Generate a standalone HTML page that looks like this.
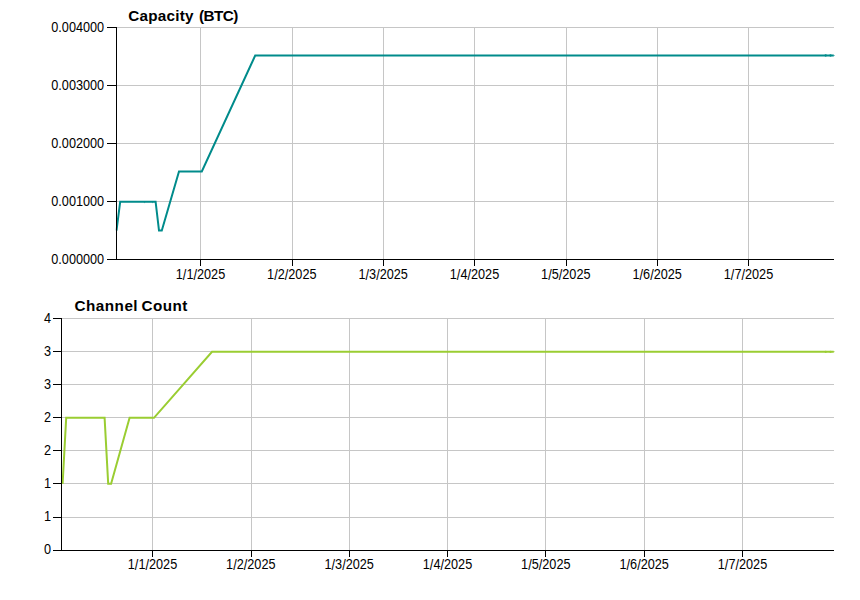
<!DOCTYPE html>
<html lang="en">
<head>
<meta charset="utf-8">
<title>Capacity (BTC) / Channel Count</title>
<style>
html,body{margin:0;padding:0;background:#fff;}
body{width:860px;height:600px;overflow:hidden;}
svg{display:block;}
.lab text{font-family:"Liberation Sans",Arial,sans-serif;font-size:14.5px;fill:#000;}
.ttl{font-family:"Liberation Sans",Arial,sans-serif;font-weight:bold;font-size:15.25px;fill:#000;}
</style>
</head>
<body>
<svg width="860" height="600" viewBox="0 0 860 600">
<defs>
<clipPath id="clip1"><rect x="115.5" y="27" width="720" height="233"/></clipPath>
<clipPath id="clip2"><rect x="61" y="318" width="774.5" height="233"/></clipPath>
</defs>
<rect x="0" y="0" width="860" height="600" fill="#fff"/>
<g shape-rendering="crispEdges" fill="#c6c6c6">
<rect x="117" y="27" width="717" height="1"/>
<rect x="117" y="85" width="717" height="1"/>
<rect x="117" y="143" width="717" height="1"/>
<rect x="117" y="201" width="717" height="1"/>
<rect x="200" y="27" width="1" height="232"/>
<rect x="292" y="27" width="1" height="232"/>
<rect x="383" y="27" width="1" height="232"/>
<rect x="474" y="27" width="1" height="232"/>
<rect x="566" y="27" width="1" height="232"/>
<rect x="657" y="27" width="1" height="232"/>
<rect x="748" y="27" width="1" height="232"/>
</g>
<polyline points="116.5,230.5 120.2,201.7 155.6,201.7 159,230.5 161.8,230.5 179,171.5 201.8,171.5 255.2,55.5 833.5,55.5" fill="none" stroke="#008b8b" stroke-width="2" stroke-linejoin="miter" clip-path="url(#clip1)"/>
<g fill="#008b8b"><polygon points="833.3,54.5 834.8,55.5 833.3,56.5"/><circle cx="825.7" cy="55.5" r="1.15"/><circle cx="830.5" cy="55.5" r="1.15"/></g>
<polygon fill="#008b8b" points="143.7,202.5 145.3,202.5 144.5,203.2"/>
<polygon fill="#008b8b" points="151.79999999999998,202.5 153.4,202.5 152.6,203.2"/>
<g shape-rendering="crispEdges" fill="#000">
<rect x="116" y="27" width="1" height="233"/>
<rect x="116" y="259" width="718" height="1"/>
<rect x="107" y="27" width="9" height="1"/>
<rect x="107" y="85" width="9" height="1"/>
<rect x="107" y="143" width="9" height="1"/>
<rect x="107" y="201" width="9" height="1"/>
<rect x="107" y="259" width="9" height="1"/>
<rect x="200" y="260" width="1" height="6"/>
<rect x="292" y="260" width="1" height="6"/>
<rect x="383" y="260" width="1" height="6"/>
<rect x="474" y="260" width="1" height="6"/>
<rect x="566" y="260" width="1" height="6"/>
<rect x="657" y="260" width="1" height="6"/>
<rect x="748" y="260" width="1" height="6"/>
</g>
<g class="lab" text-anchor="end">
<text transform="translate(104.2,32) scale(0.876,1)">0.004000</text>
<text transform="translate(104.2,90) scale(0.876,1)">0.003000</text>
<text transform="translate(104.2,148) scale(0.876,1)">0.002000</text>
<text transform="translate(104.2,206) scale(0.876,1)">0.001000</text>
<text transform="translate(104.2,264) scale(0.876,1)">0.000000</text>
</g>
<g class="lab" text-anchor="middle">
<text transform="translate(200.5,279) scale(0.876,1)">1<tspan dy="1">/</tspan><tspan dy="-1">1</tspan><tspan dy="1">/</tspan><tspan dy="-1">2025</tspan></text>
<text transform="translate(291.8,279) scale(0.876,1)">1<tspan dy="1">/</tspan><tspan dy="-1">2</tspan><tspan dy="1">/</tspan><tspan dy="-1">2025</tspan></text>
<text transform="translate(383.2,279) scale(0.876,1)">1<tspan dy="1">/</tspan><tspan dy="-1">3</tspan><tspan dy="1">/</tspan><tspan dy="-1">2025</tspan></text>
<text transform="translate(474.5,279) scale(0.876,1)">1<tspan dy="1">/</tspan><tspan dy="-1">4</tspan><tspan dy="1">/</tspan><tspan dy="-1">2025</tspan></text>
<text transform="translate(565.8,279) scale(0.876,1)">1<tspan dy="1">/</tspan><tspan dy="-1">5</tspan><tspan dy="1">/</tspan><tspan dy="-1">2025</tspan></text>
<text transform="translate(657.2,279) scale(0.876,1)">1<tspan dy="1">/</tspan><tspan dy="-1">6</tspan><tspan dy="1">/</tspan><tspan dy="-1">2025</tspan></text>
<text transform="translate(748.5,279) scale(0.876,1)">1<tspan dy="1">/</tspan><tspan dy="-1">7</tspan><tspan dy="1">/</tspan><tspan dy="-1">2025</tspan></text>
</g>
<text class="ttl" y="20.5"><tspan x="128.3" style="letter-spacing:0.23px">Capacity </tspan><tspan x="199.0" style="letter-spacing:-0.52px">(BTC)</tspan></text>
<g shape-rendering="crispEdges" fill="#c6c6c6">
<rect x="62" y="318" width="772" height="1"/>
<rect x="62" y="351" width="772" height="1"/>
<rect x="62" y="384" width="772" height="1"/>
<rect x="62" y="417" width="772" height="1"/>
<rect x="62" y="450" width="772" height="1"/>
<rect x="62" y="483" width="772" height="1"/>
<rect x="62" y="517" width="772" height="1"/>
<rect x="152" y="318" width="1" height="232"/>
<rect x="251" y="318" width="1" height="232"/>
<rect x="349" y="318" width="1" height="232"/>
<rect x="447" y="318" width="1" height="232"/>
<rect x="545" y="318" width="1" height="232"/>
<rect x="644" y="318" width="1" height="232"/>
<rect x="742" y="318" width="1" height="232"/>
</g>
<polyline points="62.6,483.85 66.2,417.85 104.6,417.85 108.2,483.85 111.1,483.85 129.6,417.85 154,417.85 212,351.85 833.5,351.85" fill="none" stroke="#9acd32" stroke-width="2" stroke-linejoin="miter" clip-path="url(#clip2)"/>
<g fill="#9acd32"><polygon points="833.3,350.85 834.8,351.85 833.3,352.85"/><circle cx="825.7" cy="351.85" r="1.15"/><circle cx="830.5" cy="351.85" r="1.15"/></g>
<g shape-rendering="crispEdges" fill="#000">
<rect x="61" y="318" width="1" height="233"/>
<rect x="61" y="550" width="773" height="1"/>
<rect x="53" y="318" width="8" height="1"/>
<rect x="53" y="351" width="8" height="1"/>
<rect x="53" y="384" width="8" height="1"/>
<rect x="53" y="417" width="8" height="1"/>
<rect x="53" y="450" width="8" height="1"/>
<rect x="53" y="483" width="8" height="1"/>
<rect x="53" y="517" width="8" height="1"/>
<rect x="53" y="550" width="8" height="1"/>
<rect x="152" y="551" width="1" height="6"/>
<rect x="251" y="551" width="1" height="6"/>
<rect x="349" y="551" width="1" height="6"/>
<rect x="447" y="551" width="1" height="6"/>
<rect x="545" y="551" width="1" height="6"/>
<rect x="644" y="551" width="1" height="6"/>
<rect x="742" y="551" width="1" height="6"/>
</g>
<g class="lab" text-anchor="end">
<text transform="translate(51.0,323) scale(0.876,1)">4</text>
<text transform="translate(51.0,356) scale(0.876,1)">3</text>
<text transform="translate(51.0,389) scale(0.876,1)">3</text>
<text transform="translate(51.0,422) scale(0.876,1)">2</text>
<text transform="translate(51.0,455) scale(0.876,1)">2</text>
<text transform="translate(51.0,488) scale(0.876,1)">1</text>
<text transform="translate(51.0,521) scale(0.876,1)">1</text>
<text transform="translate(51.0,554) scale(0.876,1)">0</text>
</g>
<g class="lab" text-anchor="middle">
<text transform="translate(152.5,569) scale(0.876,1)">1<tspan dy="1">/</tspan><tspan dy="-1">1</tspan><tspan dy="1">/</tspan><tspan dy="-1">2025</tspan></text>
<text transform="translate(250.8,569) scale(0.876,1)">1<tspan dy="1">/</tspan><tspan dy="-1">2</tspan><tspan dy="1">/</tspan><tspan dy="-1">2025</tspan></text>
<text transform="translate(349.2,569) scale(0.876,1)">1<tspan dy="1">/</tspan><tspan dy="-1">3</tspan><tspan dy="1">/</tspan><tspan dy="-1">2025</tspan></text>
<text transform="translate(447.5,569) scale(0.876,1)">1<tspan dy="1">/</tspan><tspan dy="-1">4</tspan><tspan dy="1">/</tspan><tspan dy="-1">2025</tspan></text>
<text transform="translate(545.8,569) scale(0.876,1)">1<tspan dy="1">/</tspan><tspan dy="-1">5</tspan><tspan dy="1">/</tspan><tspan dy="-1">2025</tspan></text>
<text transform="translate(644.2,569) scale(0.876,1)">1<tspan dy="1">/</tspan><tspan dy="-1">6</tspan><tspan dy="1">/</tspan><tspan dy="-1">2025</tspan></text>
<text transform="translate(742.5,569) scale(0.876,1)">1<tspan dy="1">/</tspan><tspan dy="-1">7</tspan><tspan dy="1">/</tspan><tspan dy="-1">2025</tspan></text>
</g>
<text class="ttl" y="310.8"><tspan x="74.6" style="letter-spacing:0.47px">Channel </tspan><tspan x="141.6" style="letter-spacing:0.45px">Count</tspan></text>
</svg>
</body>
</html>
